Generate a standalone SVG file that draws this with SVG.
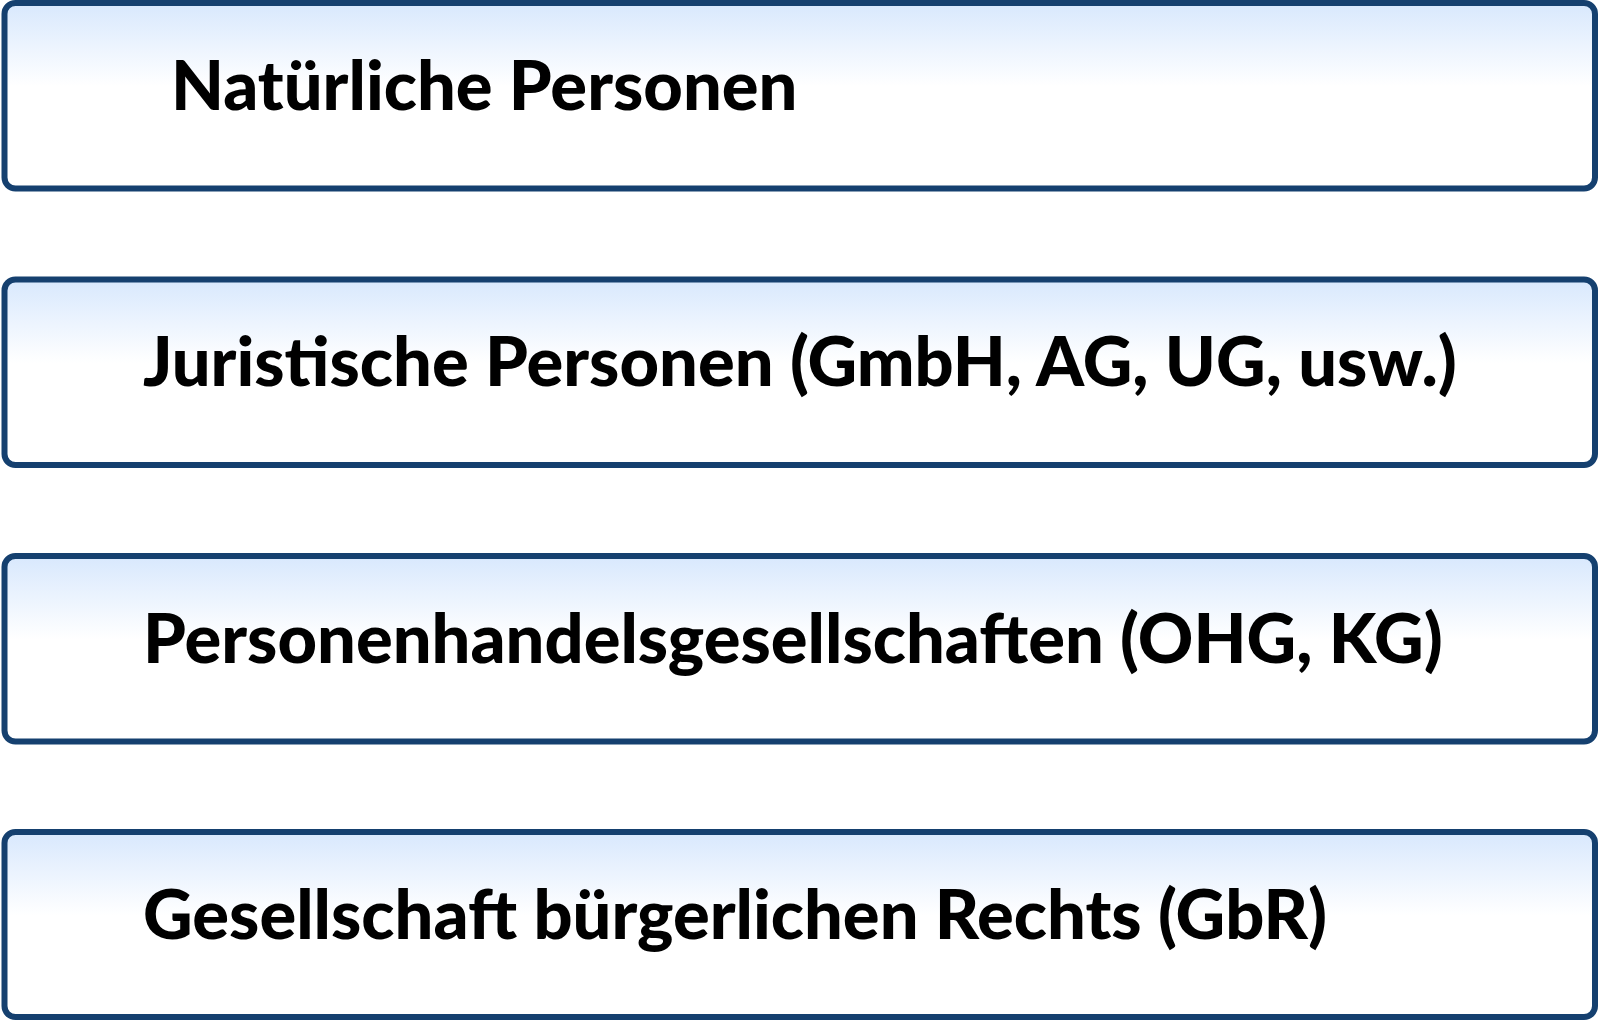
<svg xmlns="http://www.w3.org/2000/svg" width="1600" height="1021" viewBox="0 0 1600 1021">
<style>
.box{fill:url(#g);stroke:#15406f;stroke-width:6}
.t{font-family:Lato,"Liberation Sans",sans-serif;font-weight:900;font-size:68.6px;fill:#000}
</style>
<defs>
<linearGradient id="g" x1="0" y1="0" x2="0" y2="1">
<stop offset="0" stop-color="#d8e8fd"/>
<stop offset="0.45" stop-color="#ffffff"/>
<stop offset="1" stop-color="#ffffff"/>
</linearGradient>
</defs>
<rect width="1600" height="1021" fill="#fff"/>
<g id="node1"><rect class="box" x="4.5" y="3" width="1590.5" height="185.5" rx="11"/><text class="t" x="171" y="110">Natürliche Personen</text></g>
<g id="node2"><rect class="box" x="4.5" y="279.5" width="1590.5" height="185.5" rx="11"/><text class="t" x="143" y="386">Juristische Personen (GmbH, AG, UG, usw.)</text></g>
<g id="node3"><rect class="box" x="4.5" y="556" width="1590.5" height="185.5" rx="11"/><text class="t" x="143" y="663">Personenhandelsgesellschaften (OHG, KG)</text></g>
<g id="node4"><rect class="box" x="4.5" y="832" width="1590.5" height="185" rx="11"/><text class="t" x="143" y="939">Gesellschaft bürgerlichen Rechts (GbR)</text></g>
<g id="connectors"></g>
</svg>
